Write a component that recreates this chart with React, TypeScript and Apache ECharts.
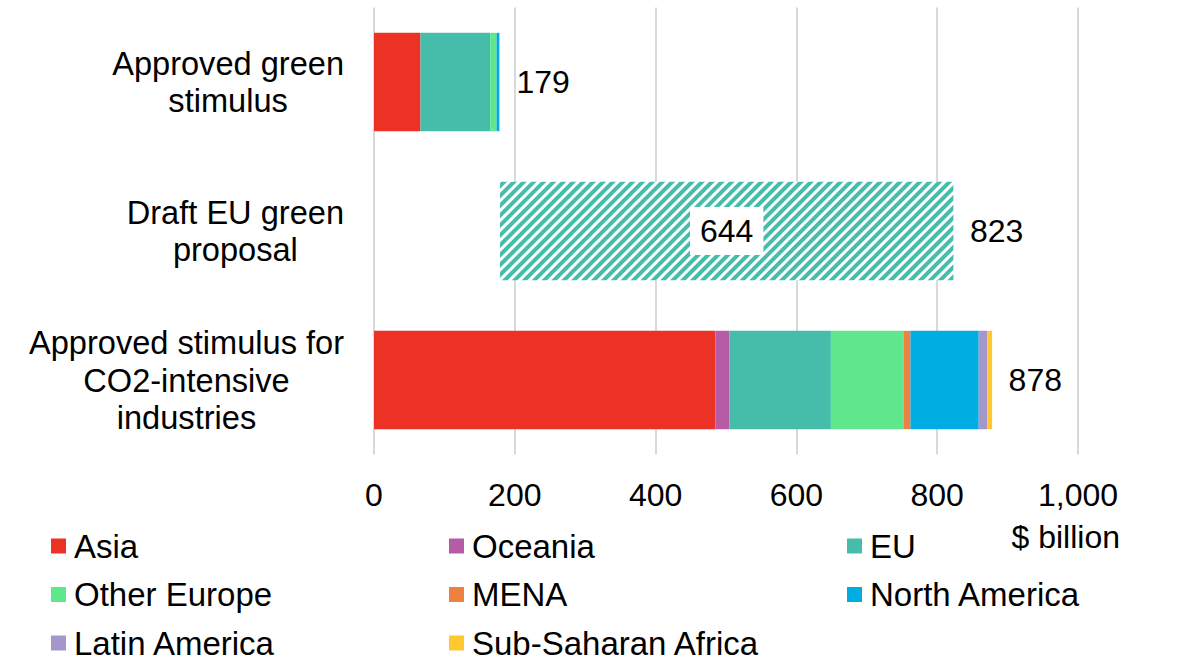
import React, { useEffect, useRef } from 'react';
import * as echarts from 'echarts';

// Categories (top to bottom)
const categories = [
  'Approved green\nstimulus',
  'Draft EU green\nproposal',
  'Approved stimulus for\nCO2-intensive\nindustries',
];

// Regional breakdown, $ billion, one value per category
const regions = [
  'Asia',
  'Oceania',
  'EU',
  'Other Europe',
  'MENA',
  'North America',
  'Latin America',
  'Sub-Saharan Africa',
];
const asia = [66, 0, 485];
const oceania = [0, 0, 20];
const eu = [99, 0, 144];
const otherEurope = [9, 0, 103];
const mena = [0, 0, 10];
const northAmerica = [4, 0, 97];
const latinAmerica = [0, 0, 12];
const subSaharanAfrica = [1, 0, 7];
const regionValues = [asia, oceania, eu, otherEurope, mena, northAmerica, latinAmerica, subSaharanAfrica];

const regionColors = [
  '#EC3125',
  '#B65BA6',
  '#45BDAA',
  '#60E68C',
  '#EE8040',
  '#00ADE3',
  '#A596CB',
  '#FFC82E',
];

// Draft EU proposal sits on top of the approved green stimulus
const draftProposal = [0, 644, 0];

// Axis ticks
const xTicks = [0, 200, 400, 600, 800, 1000];

const HATCH = '#45BDAA';
const FONT = '"Liberation Sans", Arial, sans-serif';
const TEXT = '#000';

const approvedGreenTotal = regionValues.reduce((s, arr) => s + arr[0], 0);
const draftBase = [0, approvedGreenTotal, 0];
const totals = categories.map(
  (_, i) => regionValues.reduce((s, arr) => s + arr[i], 0) + draftBase[i] + draftProposal[i]
);

const legendColumns = [
  ['Asia', 'Other Europe', 'Latin America'],
  ['Oceania', 'MENA', 'Sub-Saharan Africa'],
  ['EU', 'North America'],
];
const legendLefts = [51, 449, 847];

function buildOption(): echarts.EChartsCoreOption {
  const regionSeries = regions.map((name, k) => ({
    name,
    type: 'bar',
    stack: 'total',
    barWidth: '66%',
    itemStyle: { color: regionColors[k] },
    emphasis: { disabled: true },
    data: regionValues[k],
  }));

  return {
    animation: false,
    backgroundColor: '#fff',
    textStyle: { fontFamily: FONT },
    grid: { left: 374, right: 122, top: 7.5, bottom: 209.5, containLabel: false },
    xAxis: {
      type: 'value',
      min: xTicks[0],
      max: xTicks[xTicks.length - 1],
      interval: xTicks[1] - xTicks[0],
      axisLine: { show: false },
      axisTick: { show: false },
      splitLine: { show: true, lineStyle: { color: '#D9D9D9', width: 2 } },
      axisLabel: {
        color: TEXT,
        fontSize: 32,
        fontFamily: FONT,
        margin: 24,
        formatter: (v: number) => v.toLocaleString('en-US'),
      },
    },
    yAxis: {
      type: 'category',
      inverse: true,
      data: categories,
      axisLine: { show: false },
      axisTick: { show: false },
      axisLabel: {
        color: TEXT,
        fontFamily: FONT,
        fontSize: 32.6,
        margin: 30,
        align: 'right',
        formatter: (v: string) =>
          v
            .split('\n')
            .map((line) => `{c|${line}}`)
            .join('\n'),
        rich: {
          c: {
            align: 'center',
            fontSize: 32.6,
            lineHeight: 37.5,
            fontFamily: FONT,
            color: TEXT,
          },
        },
      },
    },
    legend: legendColumns.map((col, i) => ({
      orient: 'vertical',
      left: legendLefts[i],
      top: 529.5,
      padding: 0,
      itemWidth: 15,
      itemHeight: 15,
      itemGap: 15.5,
      icon: 'rect',
      selectedMode: false,
      data: col,
      textStyle: {
        color: TEXT,
        fontSize: 33,
        fontFamily: FONT,
        lineHeight: 32,
        padding: [0, 0, 0, 3],
      },
    })),
    graphic: [
      {
        type: 'text',
        right: 80,
        top: 521,
        style: { text: '$ billion', font: `32px ${FONT}`, fill: TEXT },
      },
    ],
    series: [
      ...regionSeries,
      {
        name: 'base',
        type: 'bar',
        stack: 'total',
        barWidth: '66%',
        itemStyle: { color: 'transparent' },
        emphasis: { disabled: true },
        data: draftBase,
      },
      {
        name: 'Draft EU green proposal',
        type: 'bar',
        stack: 'total',
        barWidth: '66%',
        emphasis: { disabled: true },
        itemStyle: {
          color: '#fff',
          decal: {
            symbol: 'rect',
            symbolSize: 1,
            dashArrayX: [1, 0],
            dashArrayY: [4, 3],
            rotation: -Math.PI / 4,
            color: HATCH,
          },
        },
        data: draftProposal.map((v) =>
          v
            ? {
                value: v,
                label: {
                  show: true,
                  position: 'inside',
                  color: TEXT,
                  fontSize: 32,
                  fontFamily: FONT,
                  backgroundColor: '#fff',
                  padding: [8, 10],
                  formatter: String(v),
                },
              }
            : v
        ),
      },
      {
        name: 'total',
        type: 'scatter',
        symbolSize: 1,
        itemStyle: { color: 'transparent', opacity: 1 },
        emphasis: { disabled: true },
        label: {
          show: true,
          position: 'right',
          distance: 16,
          color: TEXT,
          fontSize: 32,
          fontFamily: FONT,
          formatter: (p: any) => String(p.value[0]),
        },
        data: totals.map((t, i) => [t, i]),
      },
    ],
  };
}

export default function App() {
  const ref = useRef<HTMLDivElement>(null);
  useEffect(() => {
    if (!ref.current) return;
    const chart = echarts.init(ref.current, null, { renderer: 'svg' });
    chart.setOption(buildOption());
    return () => chart.dispose();
  }, []);
  return (
    <div
      ref={ref}
      style={{ position: 'fixed', left: 0, top: 0, width: 1200, height: 664, background: '#fff' }}
    />
  );
}
